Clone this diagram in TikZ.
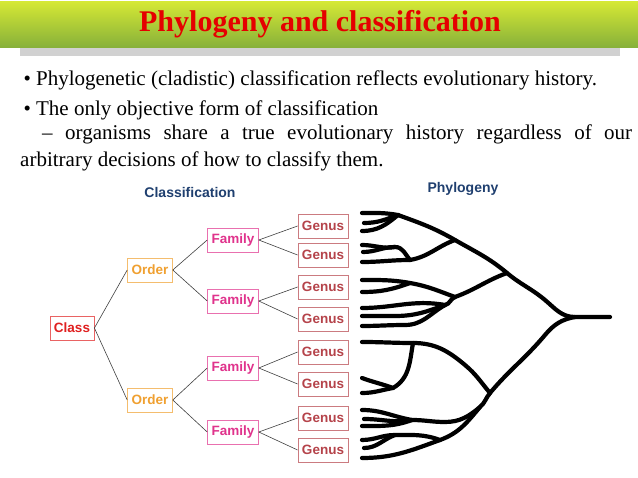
\documentclass[tikz,border=0pt]{standalone}
\usepackage{fontspec}
\setmainfont{Liberation Serif}
\newfontfamily\arial{Liberation Sans}
\begin{document}
\begin{tikzpicture}[x=1pt,y=-1pt,
  bx/.style={draw=#1!70!white,fill=white,line width=0.8pt,font=\arial\bfseries\fontsize{13.5}{15}\selectfont,text=#1,minimum height=24pt,inner xsep=4pt},
  ln/.style={draw=black!75,line width=0.6pt},
  br/.style={line width=4.2pt,line cap=round,black}]
\useasboundingbox (0,0) rectangle (638,478);
\definecolor{gcol}{HTML}{B5434A}
\definecolor{fcol}{HTML}{E0338C}
\definecolor{ocol}{HTML}{F0A030}
\definecolor{ccol}{HTML}{E02020}
\definecolor{bar1}{HTML}{B8D858}
\definecolor{bar2}{HTML}{86B03A}
\definecolor{navy}{HTML}{1F3F6F}
% title
\fill[black!18] (20,48) rectangle (620,56);
\shade[top color=bar1!60!yellow,bottom color=bar2] (0,2) rectangle (638,48);
\node (title) at (320,24) {\fontsize{30}{32}\selectfont\bfseries\color{red!90!black}Phylogeny and classification};
% text
\node[anchor=west,font=\fontsize{21}{24}\selectfont] (b1) at (20,80) {• Phylogenetic (cladistic) classification reflects evolutionary history.};
\node[anchor=west,font=\fontsize{21}{24}\selectfont] (b2) at (20,110) {• The only objective form of classification};
\node[anchor=north west,font=\fontsize{21}{27}\selectfont,text width=612pt,align=justify,inner sep=0pt] (b3) at (20,125) {\hspace*{22pt}– organisms share a true evolutionary history regardless of our\linebreak arbitrary decisions of how to classify them.};
\node[font=\arial\bfseries\fontsize{14}{16}\selectfont,text=navy] (lc) at (190,192) {Classification};
\node[font=\arial\bfseries\fontsize{14}{16}\selectfont,text=navy] (lp) at (463,189) {Phylogeny};
% boxes
\node[bx=ccol] (c) at (72,328) {Class};
\node[bx=ocol] (o1) at (150,270) {Order};
\node[bx=ocol] (o2) at (150,400) {Order};
\foreach \i/\y in {1/240,2/301,3/368,4/432} \node[bx=fcol] (f\i) at (233,\y) {Family};
\foreach \i/\y in {1/226,2/255,3/287,4/319,5/352,6/384,7/418,8/450} \node[bx=gcol] (g\i) at (323,\y) {Genus};
\draw[ln] (c.east) -- (o1.west); \draw[ln] (c.east) -- (o2.west);
\draw[ln] (o1.east) -- (f1.west); \draw[ln] (o1.east) -- (f2.west);
\draw[ln] (o2.east) -- (f3.west); \draw[ln] (o2.east) -- (f4.west);
\foreach \f/\a/\b in {1/1/2,2/3/4,3/5/6,4/7/8}{\draw[ln] (f\f.east) -- (g\a.west); \draw[ln] (f\f.east) -- (g\b.west);}
% phylogeny
\draw[br] (610,317) -- (575,317) to[out=180,in=-40] (545,300) to[out=140,in=-40] (507,273) to[out=140,in=-30] (455,240) to[out=150,in=-20] (398,215) to[out=170,in=0] (362,213);
\draw[br] (398,215) to[out=200,in=0] (364,223);
\draw[br] (398,215) to[out=220,in=0] (362,231);
\draw[br] (455,240) to[out=200,in=10] (410,260) to[out=180,in=0] (362,262);
\draw[br] (410,260) to[out=130,in=0] (395,247) to[out=180,in=0] (363,252);
\draw[br] (395,247) to[out=190,in=0] (362,245);
\draw[br] (507,273) to[out=200,in=20] (455,297) to[out=160,in=-10] (410,283) to[out=170,in=0] (362,280);
\draw[br] (410,283) to[out=200,in=0] (362,292);
\draw[br] (455,297) to[out=200,in=10] (445,305) to[out=170,in=0] (362,308);
\draw[br] (445,305) to[out=200,in=0] (395,316) to[out=180,in=0] (362,316);
\draw[br] (445,305) to[out=210,in=0] (405,325) to[out=180,in=0] (362,326);
\draw[br] (575,317) to[out=190,in=50] (545,335) to[out=230,in=50] (490,393) to[out=130,in=-40] (465,365) to[out=140,in=0] (413,343) to[out=180,in=0] (362,342);
\draw[br] (413,343) to[out=260,in=30] (393,388) to[out=190,in=0] (362,393);
\draw[br] (393,388) to[out=160,in=-20] (362,378);
\draw[br] (490,393) to[out=230,in=40] (480,407) to[out=220,in=0] (445,422) to[out=180,in=0] (412,420) to[out=170,in=0] (362,410);
\draw[br] (412,420) to[out=190,in=0] (364,419);
\draw[br] (412,420) to[out=200,in=0] (362,426);
\draw[br] (480,407) to[out=230,in=20] (440,440) to[out=160,in=0] (395,435) to[out=180,in=0] (362,440);
\draw[br] (395,435) to[out=200,in=0] (364,448);
\draw[br] (440,440) to[out=200,in=0] (362,458);
\end{tikzpicture}
\end{document}
